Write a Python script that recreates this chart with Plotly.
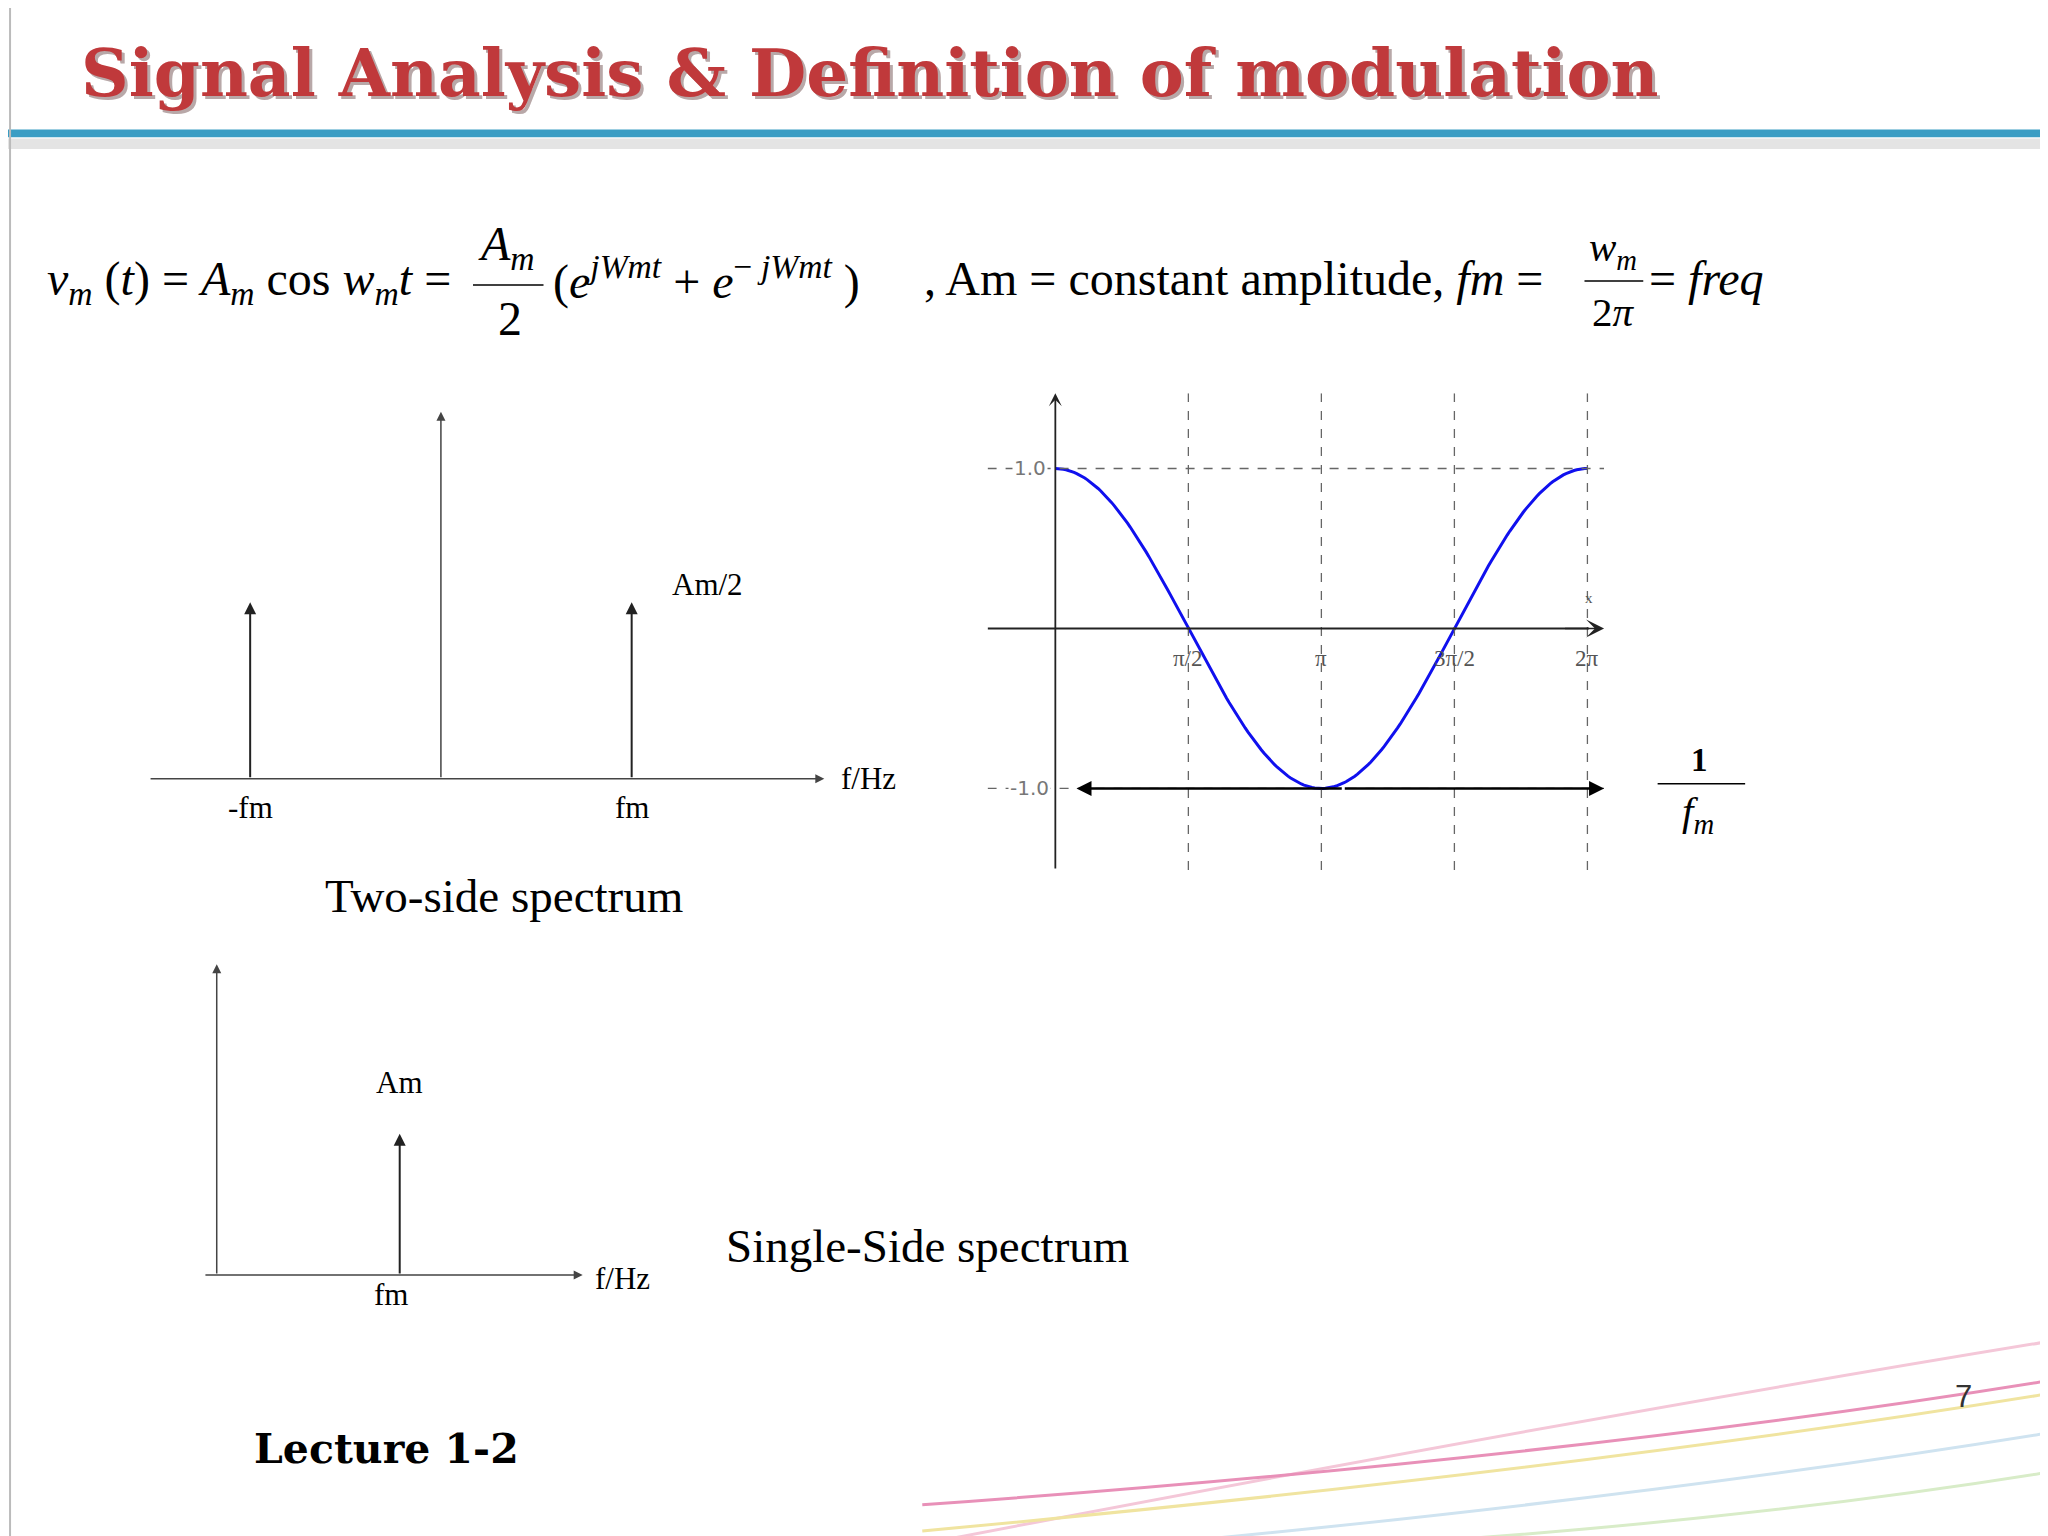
import numpy as np
import plotly.graph_objects as go

W, H = 2048, 1536
S = W / 1568.0

def px(x): return x / 1568.0
def py(y): return 1 - y / 1176.0

# two-side spectrum
two_freqs = [-1, 1]
two_amps = [0.5, 0.5]
two_labels = ["-fm", "fm"]
# single-side spectrum
one_freqs = [1]
one_amps = [1.0]
one_labels = ["fm"]
# cosine period
cos_ticks = [np.pi / 2, np.pi, 3 * np.pi / 2, 2 * np.pi]
cos_tick_text = ["π/2", "π", "3π/2", "2π"]
cos_x = np.linspace(0, 2 * np.pi, 200)
cos_y = np.cos(cos_x)

SERIF = "Liberation Serif"
fig = go.Figure()
fig.add_trace(go.Scatter(x=cos_x, y=cos_y, mode="lines", line=dict(color="#1010ee", width=3),
                         xaxis="x2", yaxis="y2", showlegend=False, hoverinfo="skip"))

hidden = dict(showgrid=False, zeroline=False, showticklabels=False, showline=False, fixedrange=True)
fig.update_layout(
    width=W, height=H, margin=dict(l=0, r=0, t=0, b=0),
    paper_bgcolor="white", plot_bgcolor="rgba(0,0,0,0)", showlegend=False,
    font=dict(color="black", family=SERIF),
    xaxis=dict(domain=[px(108), px(625)], range=[-1.53, 2.01], anchor="y", **hidden),
    yaxis=dict(domain=[py(600), py(300)], range=[-0.037, 1.074], anchor="x", **hidden),
    xaxis2=dict(domain=[px(750), px(1222)], range=[-0.80, 6.48], anchor="y2", **hidden),
    yaxis2=dict(domain=[py(660), py(295)], range=[-1.51, 1.47], anchor="x2", **hidden),
    xaxis3=dict(domain=[px(150), px(440)], range=[-0.07, 2.0], anchor="y3", **hidden),
    yaxis3=dict(domain=[py(975), py(730)], range=[-0.046, 2.22], anchor="x3", **hidden),
)

ann = []
shp = []

def arrow(xr, yr, x0, y0, x1, y1, width=2, color="#222", head=2, size=1.2):
    ann.append(dict(xref=xr, yref=yr, axref=xr, ayref=yr, x=x1, y=y1, ax=x0, ay=y0,
                    showarrow=True, arrowhead=head, arrowwidth=width, arrowsize=size,
                    arrowcolor=color, text=""))

def text(x, y, t, size, color="black", family=SERIF, xanchor="center", yanchor="middle", **kw):
    ann.append(dict(xref="paper", yref="paper", x=x, y=y, text=t, showarrow=False,
                    font=dict(size=size, color=color, family=family),
                    xanchor=xanchor, yanchor=yanchor, **kw))

# ---- two-side spectrum
arrow("x", "y", -1.53, 0, 2.01, 0, width=1.5, color="#444")
arrow("x", "y", 0, 0, 0, 1.04, width=1.5, color="#444")
for f, a, lab in zip(two_freqs, two_amps, two_labels):
    arrow("x", "y", f, 0, f, a, width=2)
    ann.append(dict(xref="x", yref="paper", x=f, y=py(612), text=lab, showarrow=False,
                    font=dict(size=int(24 * S), family=SERIF, color="black")))
ann.append(dict(xref="x", yref="y", x=two_freqs[1] + 0.4, y=two_amps[1] + 0.05, text="Am/2",
                showarrow=False, font=dict(size=int(24 * S), family=SERIF, color="black")))
text(px(636), py(590), "f/Hz", int(24 * S), xanchor="left")
text(px(380), py(680), "Two-side spectrum", int(36 * S))

# ---- cosine
for v in cos_ticks:
    shp.append(dict(type="line", xref="x2", yref="y2", x0=v, x1=v, y0=-1.51, y1=1.47,
                    line=dict(color="#666", width=1.3, dash="dash")))
for v in [1, -1]:
    shp.append(dict(type="line", xref="x2", yref="y2", x0=-0.8, x1=6.48, y0=v, y1=v,
                    line=dict(color="#666", width=1.3, dash="dash")))
shp.append(dict(type="line", xref="x2", yref="y2", x0=-0.8, x1=6.3, y0=0, y1=0,
                line=dict(color="#222", width=1.8)))
arrow("x2", "y2", 0, -1.51, 0, 1.47, width=1.8, head=3)
arrow("x2", "y2", 6.0, 0, 6.48, 0, width=1.5, head=3, size=2)
for v, t in zip(cos_ticks, cos_tick_text):
    ann.append(dict(xref="x2", yref="y2", x=v, y=-0.19, text=t, showarrow=False,
                    font=dict(size=int(18 * S), color="#555", family=SERIF)))
for v, t in zip([1, -1], ["1.0", "-1.0"]):
    ann.append(dict(xref="x2", yref="y2", x=-0.3, y=v, text=t, showarrow=False, xanchor="center",
                    bgcolor="white", font=dict(size=int(16 * S), color="#777", family="DejaVu Sans")))
ann.append(dict(xref="x2", yref="y2", x=6.3, y=0.19, text="x", showarrow=False,
                font=dict(size=int(12 * S), color="#555")))
arrow("x2", "y2", 3.4, -1, 6.48, -1, width=2.5, color="black", head=2)
arrow("x2", "y2", 3.4, -1, 0.25, -1, width=2.5, color="black", head=2)

text(px(1295), py(576), "<b>1</b>", int(26 * S))
shp.append(dict(type="line", xref="paper", yref="paper", x0=px(1263), x1=px(1330), y0=py(594), y1=py(594),
                line=dict(color="black", width=1.5)))
text(px(1294), py(617), "<i>f<sub>m</sub></i>", int(32 * S))

# ---- single-side spectrum
arrow("x3", "y3", -0.07, 0, 2.0, 0, width=1.5, color="#444")
arrow("x3", "y3", 0, 0, 0, 2.2, width=1.5, color="#444")
for f, a, lab in zip(one_freqs, one_amps, one_labels):
    arrow("x3", "y3", f, 0, f, a, width=2)
    ann.append(dict(xref="x3", yref="paper", x=f - 0.05, y=py(1000), text=lab, showarrow=False,
                    font=dict(size=int(24 * S), family=SERIF, color="black")))
    ann.append(dict(xref="x3", yref="y3", x=f, y=a + 0.36, text="Am", showarrow=False,
                    font=dict(size=int(24 * S), family=SERIF, color="black")))
text(px(448), py(973), "f/Hz", int(24 * S), xanchor="left")
text(px(548), py(948), "Single-Side spectrum", int(36 * S), xanchor="left")

# ---- formula
FS = int(37 * S)
text(px(28), py(210),
     "<i>v<sub>m</sub></i> (<i>t</i>) = <i>A<sub>m</sub></i> cos <i>w<sub>m</sub>t</i> =",
     FS, xanchor="left")
text(px(382), py(183), "<i>A<sub>m</sub></i>", FS)
shp.append(dict(type="line", xref="paper", yref="paper", x0=px(356), x1=px(410), y0=py(212), y1=py(212),
                line=dict(color="black", width=1.5)))
text(px(384), py(238), "2", FS)
text(px(416), py(207), "(<i>e</i><sup><i>jWmt</i></sup> + <i>e</i><sup>− <i>jWmt</i></sup> )",
     FS, xanchor="left")
text(px(700), py(207), ", Am = constant amplitude, <i>fm</i> =", FS, xanchor="left")
text(px(1229), py(185), "<i>w<sub>m</sub></i>", int(32 * S))
shp.append(dict(type="line", xref="paper", yref="paper", x0=px(1207), x1=px(1252), y0=py(209), y1=py(209),
                line=dict(color="black", width=1.5)))
text(px(1229), py(233), "2<i>π</i>", int(32 * S))
text(px(1255), py(207), "= <i>freq</i>", FS, xanchor="left")

# ---- slide chrome
title = "<b>Signal Analysis & Definition of modulation</b>"
text(px(54) + 0.0015, py(50) - 0.002, title, int(51 * S), color="#b8a8a8", family="DejaVu Serif", xanchor="left")
text(px(54), py(50), title, int(51 * S), color="#c0393b", family="DejaVu Serif", xanchor="left")
shp.append(dict(type="rect", xref="paper", yref="paper", x0=0, x1=1, y0=py(99), y1=py(93),
                line=dict(width=0), fillcolor="#3a9dc4"))
shp.append(dict(type="rect", xref="paper", yref="paper", x0=0, x1=1, y0=py(108), y1=py(100),
                line=dict(width=0), fillcolor="#e4e4e4"))
shp.append(dict(type="line", xref="paper", yref="paper", x0=0.001, x1=0.001, y0=0, y1=1,
                line=dict(color="#bbb", width=2)))
text(px(290), py(1103), "<b>Lecture 1-2</b>", int(32 * S), family="DejaVu Serif")
text(px(1497), py(1063), "7", int(24 * S), color="#333", family="Liberation Sans")
swoosh = [("#f4c7d8", 1160, 1040), ("#f0e4a0", 1150, 1080), ("#cfe3f0", 1176, 1110),
          ("#d8ecc8", 1176, 1140), ("#e890b8", 1130, 1070)]
for c, y0, y1 in swoosh:
    shp.append(dict(type="path", xref="paper", yref="paper",
                    path=f"M {px(700)},{py(y0 + 16)} Q {px(1200)},{py(y1 + 40)} {1},{py(y1 - 20)}",
                    line=dict(color=c, width=3)))

fig.update_layout(annotations=ann, shapes=shp)
fig.write_html("out.html")
